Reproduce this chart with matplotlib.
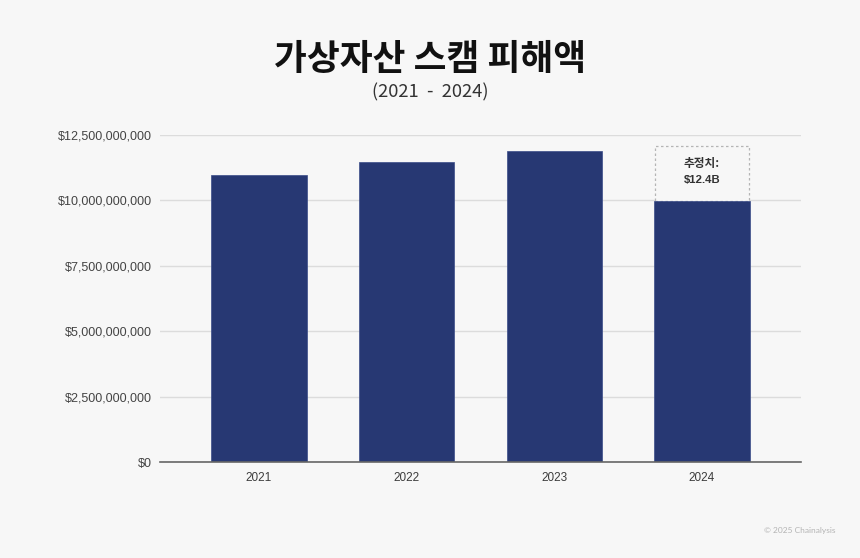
import matplotlib
matplotlib.use('Agg')
import matplotlib.pyplot as plt

years = ['2021', '2022', '2023', '2024']
losses = [10.97e9, 11.47e9, 11.87e9, 9.98e9]
estimate_top = 12.08e9   # where the dashed box ends in the picture
yticks = [0, 2.5e9, 5e9, 7.5e9, 10e9, 12.5e9]
ylabels = ['$0', '$2,500,000,000', '$5,000,000,000', '$7,500,000,000',
           '$10,000,000,000', '$12,500,000,000']

KR = ['Noto Sans CJK KR', 'DejaVu Sans']
bg = '#f7f7f7'
navy = '#273873'

fig = plt.figure(figsize=(8.6, 5.58), dpi=100, facecolor=bg)
ax = fig.add_axes([160/860, 1-462/558, 641/860, 327/558], facecolor=bg)

x = list(range(len(years)))
ax.bar(x, losses, width=0.645, color=navy, edgecolor='#3a4c88', linewidth=0.5, zorder=3)

# dashed box on top of the 2024 bar
ax.bar(x[3], estimate_top-losses[3], bottom=losses[3], width=0.64, facecolor=bg,
       edgecolor='#b5b5b5', linewidth=0.9, linestyle=(0, (2, 2)), zorder=2)
ax.text(x[3], 11.42e9, '추정치:', ha='center', va='center', fontsize=8.4,
        fontweight='bold', color='#333333', family=KR, zorder=4)
ax.text(x[3], 10.77e9, '$12.4B', ha='center', va='center', fontsize=8.2,
        fontweight='bold', color='#333333', family='Liberation Sans',
        parse_math=False, zorder=4)

ax.set_xlim(-0.671, 3.671)
ax.set_ylim(0, 12.5e9)
ax.set_xticks(x)
ax.set_xticklabels(years, fontsize=8.5, color='#3c3c3c', family='Liberation Sans')
ax.set_yticks(yticks)
ax.set_yticklabels(ylabels, fontsize=9, color='#444444', family='Liberation Sans')
for t in ax.get_yticklabels():
    t.set_parse_math(False)
ax.tick_params(axis='both', length=0)
ax.tick_params(axis='x', pad=7)
ax.tick_params(axis='y', pad=5.5)
ax.grid(axis='y', color='#dcdcdc', linewidth=1.0, zorder=0)
ax.set_axisbelow(True)
for s in ['top', 'right', 'left']:
    ax.spines[s].set_visible(False)
ax.spines['bottom'].set_color('#666666')
ax.spines['bottom'].set_linewidth(1.2)
ax.spines['bottom'].set_zorder(5)

fig.text(430/860, 1-59/558, '가상자산 스캠 피해액', ha='center', va='center',
         fontsize=25.7, fontweight='bold', color='#111111', family=KR)
fig.text(430/860, 1-92/558, '(2021  -  2024)', ha='center', va='center',
         fontsize=13.2, color='#333333', family=KR)
fig.text(836/860, 1-530/558, '© 2025 Chainalysis', ha='right', va='center',
         fontsize=6, color='#b4b4b4', family='Lato')

fig.savefig('out.png', dpi=100, facecolor=bg)
